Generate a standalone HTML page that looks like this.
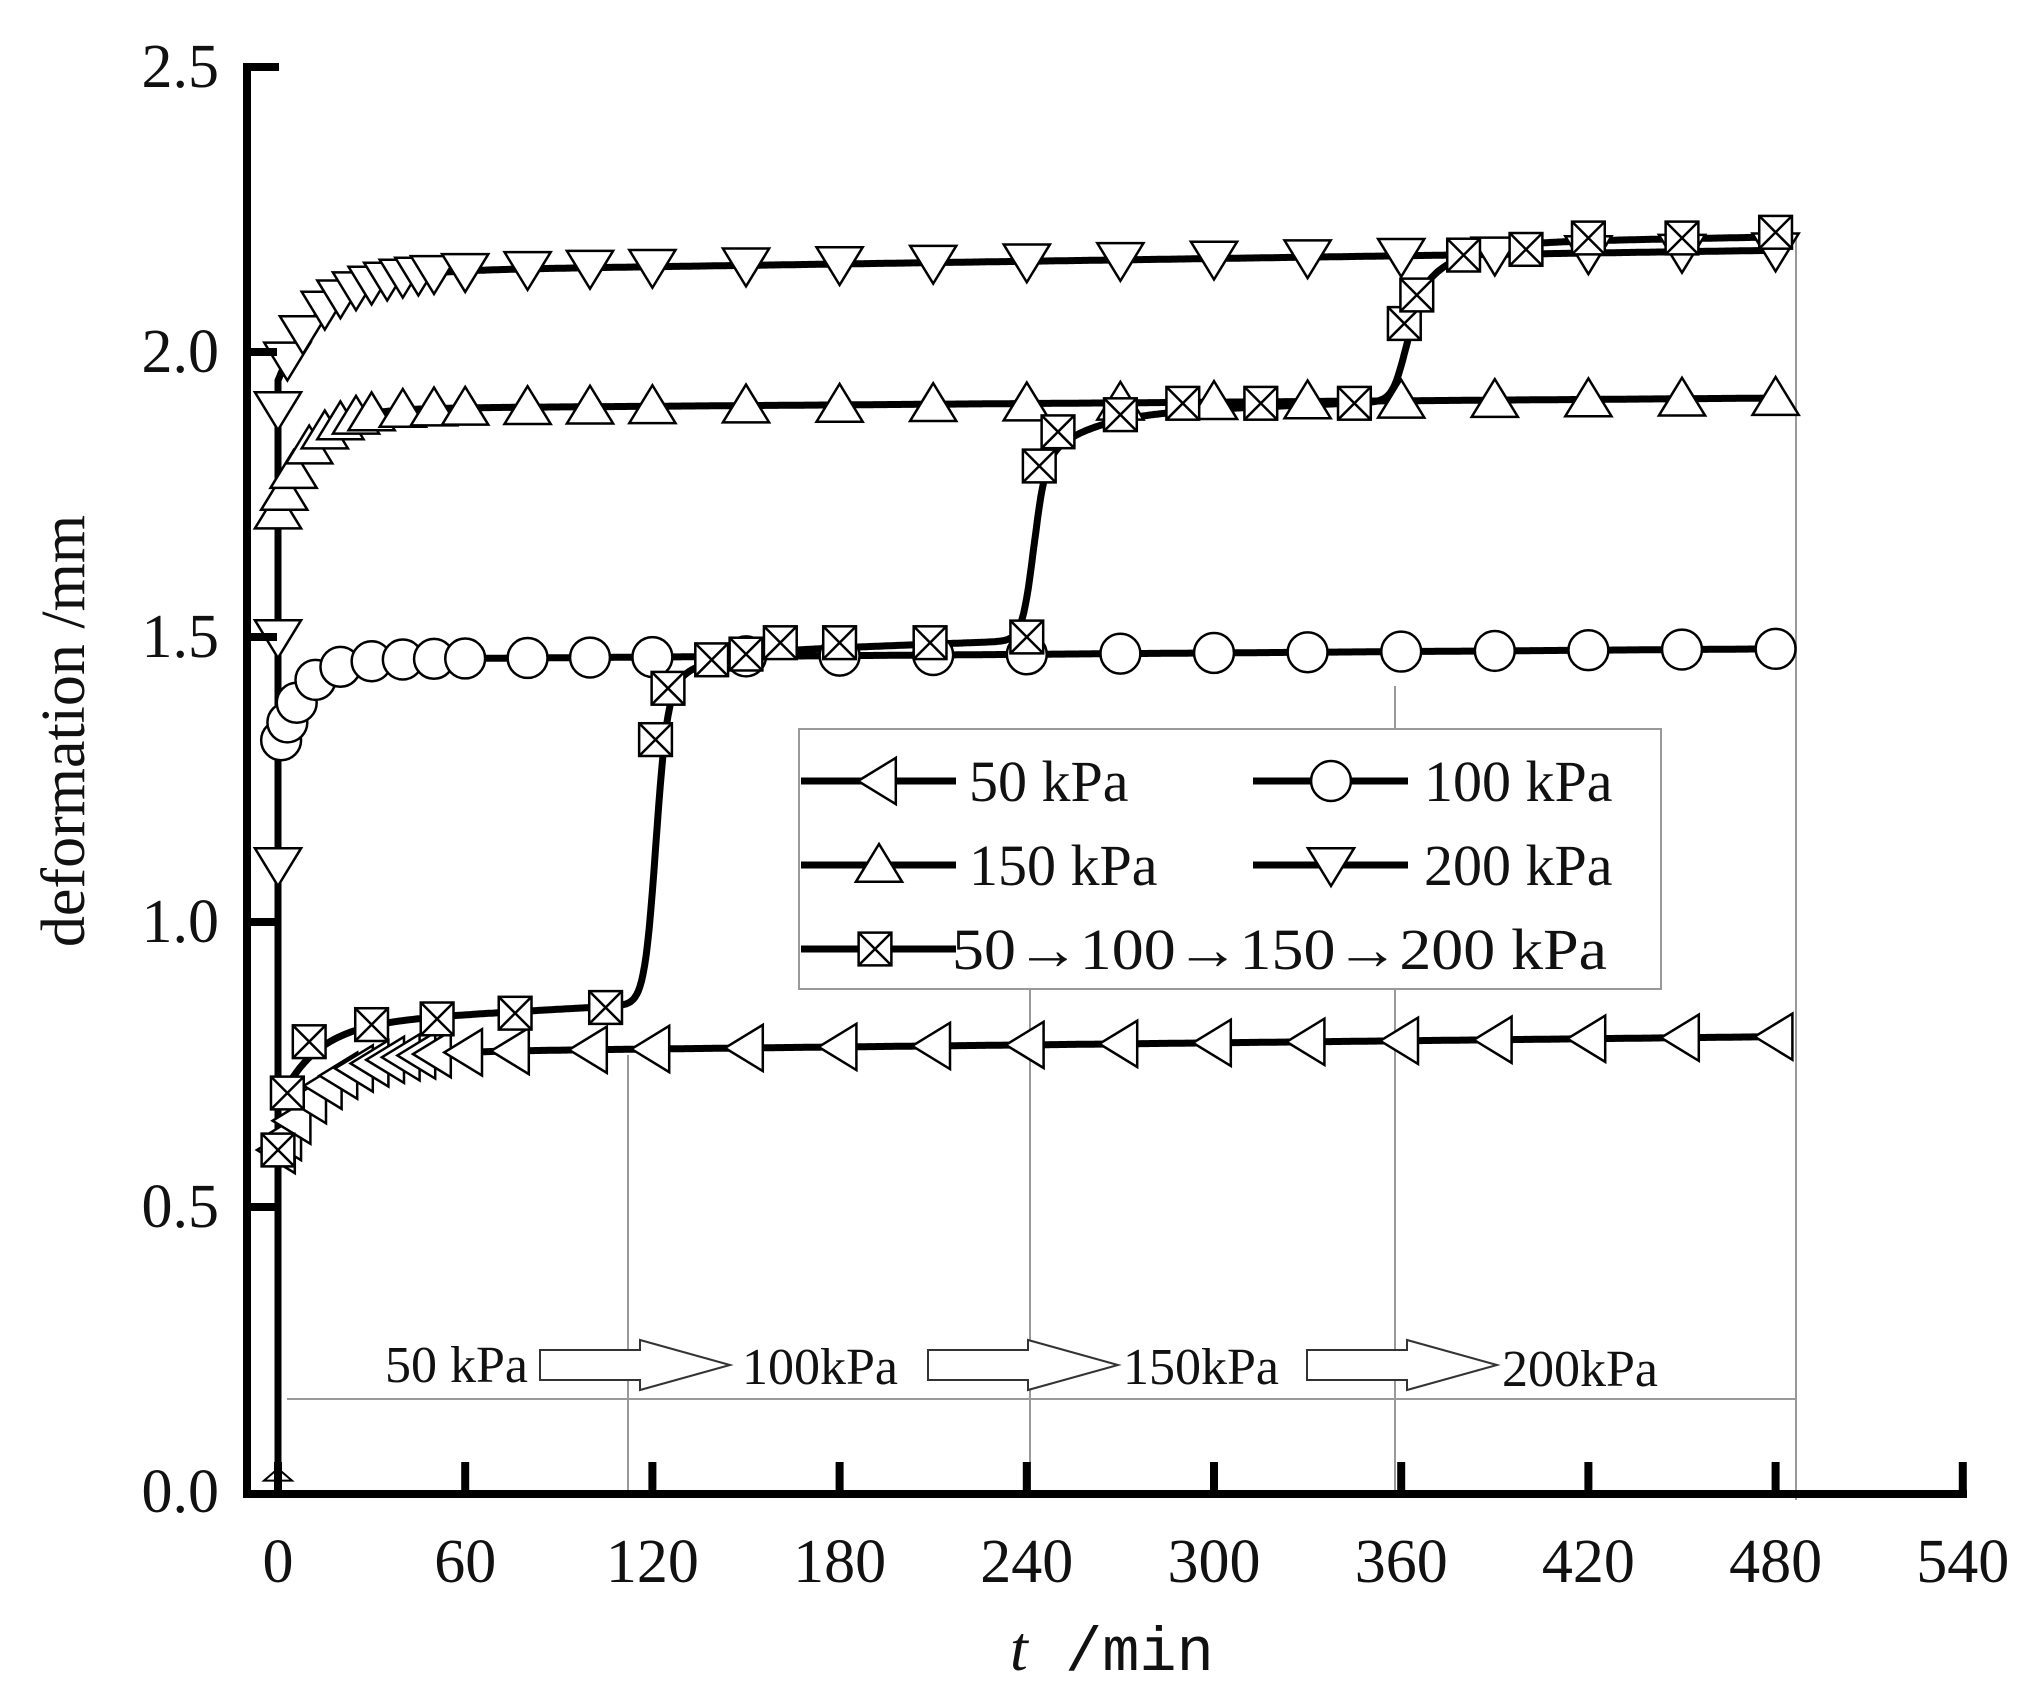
<!DOCTYPE html>
<html><head><meta charset="utf-8"><style>
html,body{margin:0;padding:0;background:#fff;}
svg{display:block;}
text{font-family:"Liberation Serif",serif;fill:#111;}
</style></head><body>
<svg id="s" width="2037" height="1695" viewBox="0 0 2037 1695" xmlns="http://www.w3.org/2000/svg">
<g stroke="#999" stroke-width="2" fill="none">
<line x1="287" y1="1399" x2="1796" y2="1399"/>
<line x1="628" y1="1055" x2="628" y2="1490"/>
<line x1="1030" y1="730" x2="1030" y2="1490"/>
<line x1="1395" y1="686" x2="1395" y2="1490"/>
<line x1="1796" y1="235" x2="1796" y2="1500"/>
</g>
<g id="plot"></g>
<rect x="799" y="729" width="862" height="260" fill="#fff" stroke="#999" stroke-width="2"/>
<g id="leg"></g>
<g font-size="58">
<text x="969" y="801">50 kPa</text>
<text x="1424" y="801">100 kPa</text>
<text x="969" y="885">150 kPa</text>
<text x="1424" y="885">200 kPa</text>
<text x="952" y="969" textLength="655" lengthAdjust="spacingAndGlyphs">50→100→150→200 kPa</text>
</g>
<g font-size="52">
<text x="385" y="1382">50 kPa</text>
<text x="742" y="1384">100kPa</text>
<text x="1123" y="1384">150kPa</text>
<text x="1502" y="1386">200kPa</text>
</g>
<g fill="#fff" stroke="#333" stroke-width="2">
<path d="M540,1350 H640 V1340 L730,1365 L640,1390 V1380 H540 Z"/>
<path d="M928,1350 H1028 V1340 L1118,1365 L1028,1390 V1380 H928 Z"/>
<path d="M1307,1350 H1407 V1340 L1497,1365 L1407,1390 V1380 H1307 Z"/>
</g>
<g stroke="#000" stroke-width="8" fill="none" stroke-linecap="square">
<line x1="247" y1="67" x2="247" y2="1494"/>
<line x1="247" y1="1494" x2="1963" y2="1494"/>
<line x1="247" y1="67" x2="275" y2="67"/>
</g>
<g id="ticks" stroke="#000" stroke-width="8"></g>
<g font-size="62" text-anchor="end">
<text x="219" y="1512">0.0</text>
<text x="219" y="1227">0.5</text>
<text x="219" y="942">1.0</text>
<text x="219" y="657">1.5</text>
<text x="219" y="372">2.0</text>
<text x="219" y="87">2.5</text>
</g>
<g id="xl" font-size="62" text-anchor="middle"></g>
<text transform="translate(84,731) rotate(-90)" font-size="62" text-anchor="middle">deformation /mm</text>
<text x="1010" y="1670" font-size="64" font-style="italic">t</text>
<text x="1065" y="1670" font-size="62" style="font-family:'Liberation Mono',monospace">/min</text>
</svg>
<script>
var NS="http://www.w3.org/2000/svg";
function X(t){return 278+3.12*t;}function Y(v){return 1492-570*v;}
function el(p,n,a){var e=document.createElementNS(NS,n);for(var k in a)e.setAttribute(k,a[k]);p.appendChild(e);return e;}
var tk=document.getElementById('ticks'),xl=document.getElementById('xl');
for(var t=0;t<=540;t+=60){el(tk,'line',{x1:X(t),y1:1494,x2:X(t),y2:1462});var tx=el(xl,'text',{x:X(t),y:1582});tx.textContent=t;}
for(var v=0.5;v<2.6;v+=0.5){el(tk,'line',{x1:247,y1:Y(v),x2:277,y2:Y(v)});}
var plot=document.getElementById('plot');
function line(f,t0,t1,start){var d="M"+X(0)+","+Y(0)+" L"+X(0)+","+Y(start);for(var t=t0;t<=t1;t+=0.5)d+=" L"+X(t).toFixed(1)+","+Y(f(t)).toFixed(1);el(plot,'path',{d:d,fill:'none',stroke:'#000','stroke-width':7,'stroke-linejoin':'round'});}
function sat(a,b,tau,t,s){return a+(b-a)*(1-Math.exp(-t/tau))+s*t;}
var f50=function(t){return sat(0.6,0.77,14,t,0.00006);};
var f100=function(t){return sat(1.3,1.46,8,t,0.00004);};
var f150=function(t){return sat(1.72,1.9,10,t,0.00004);};
var f200=function(t){return sat(1.95,2.14,14,t,0.00008);};
function S(t,c,w){return 1/(1+Math.exp(-(t-c)/w));}
function P(a,b,tau,s,t,c){var u=Math.max(0,t-c);return a+(b-a)*(1-Math.exp(-u/tau))+s*u;}
var fst=function(t){
 var p1=0.68+0.14*(1-Math.exp(-t/12))+0.0003*t;
 var p2=P(1.40,1.47,12,0.0002,t,122);
 var p3=P(1.80,1.89,15,0.0002,t,243);
 var p4=P(2.08,2.19,12,0.0001,t,362);
 var s1=S(t,121,1.8),s2=S(t,242,1.8),s3=S(t,361,2);
 return p1*(1-s1)+s1*(p2*(1-s2)+s2*(p3*(1-s3)+s3*p4));};
line(f50,0,480,0.6);line(f100,0,480,1.28);line(f150,0,480,1.72);line(f200,0,480,1.95);line(fst,0,480,0.6);
var R=21;
function tri(x,y,dir){var p;if(dir=='up')p=[[x,y-R],[x-R*1.1,y+R*0.8],[x+R*1.1,y+R*0.8]];else if(dir=='down')p=[[x,y+R],[x-R*1.1,y-R*0.8],[x+R*1.1,y-R*0.8]];else p=[[x-R,y],[x+R*0.8,y-R*1.1],[x+R*0.8,y+R*1.1]];el(plot,'polygon',{points:p.map(function(q){return q.join(',')}).join(' '),fill:'#fff',stroke:'#000','stroke-width':2.5});}
function circ(x,y){el(plot,'circle',{cx:x,cy:y,r:R*0.95,fill:'#fff',stroke:'#000','stroke-width':2.5});}
function box(x,y){var r=R*0.78;el(plot,'rect',{x:x-r,y:y-r,width:2*r,height:2*r,fill:'#fff',stroke:'#000','stroke-width':2.5});el(plot,'path',{d:'M'+(x-r)+','+(y-r)+'L'+(x+r)+','+(y+r)+'M'+(x+r)+','+(y-r)+'L'+(x-r)+','+(y+r),stroke:'#000','stroke-width':2.5});}
var dense=[0,2,5,10,15,20,25,30,35,40,45,50,60,75,100,120,150,180,210,240,270,300,330,360,390,420,450,480];
dense.forEach(function(t){tri(X(t),Y(f50(t)),'left');});
[1,3,6,12,20,30,40,50,60,80,100,120,150,180,210,240,270,300,330,360,390,420,450,480].forEach(function(t){circ(X(t),Y(f100(t)));});
[0,2,5,10,15,20,25,30,40,50,60,80,100,120,150,180,210,240,270,300,330,360,390,420,450,480].forEach(function(t){tri(X(t),Y(f150(t)),'up');});
tri(X(0),Y(1.1),'down');tri(X(0),Y(1.5),'down');tri(X(0),Y(1.9),'down');
[3,8,15,20,25,30,35,40,45,50,60,80,100,120,150,180,210,240,270,300,330,360,390,420,450,480].forEach(function(t){tri(X(t),Y(f200(t)),'down');});
[[0,0.6],[3,0.7],[10,0.79],[30,0.82],[51,0.83],[76,0.84],[105,0.85],[121,1.32],[125,1.41],[139,1.46],[150,1.47],[161,1.49],[180,1.49],[209,1.49],[240,1.5],[244,1.8],[250,1.86],[270,1.89],[290,1.91],[315,1.91],[345,1.91],[361,2.05],[365,2.1],[380,2.17],[400,2.18],[420,2.2],[450,2.2],[480,2.21]].forEach(function(p){box(X(p[0]),Y(p[1]));});
el(plot,'path',{d:'M'+X(0)+','+Y(0.02)+' l-14,0 l14,-12 l14,12 z',fill:'#fff',stroke:'#000','stroke-width':2});
var lg=document.getElementById('leg');
function lline(x,y){el(lg,'line',{x1:x,y1:y,x2:x+155,y2:y,stroke:'#000','stroke-width':7});}
lline(801,781);lline(1253,781);lline(801,865);lline(1253,865);lline(801,949);
var oldp=plot;plot=lg;
tri(879,781,'left');circ(1331,781);tri(879,865,'up');tri(1331,865,'down');box(875,949);
plot=oldp;
</script>
</body></html>
